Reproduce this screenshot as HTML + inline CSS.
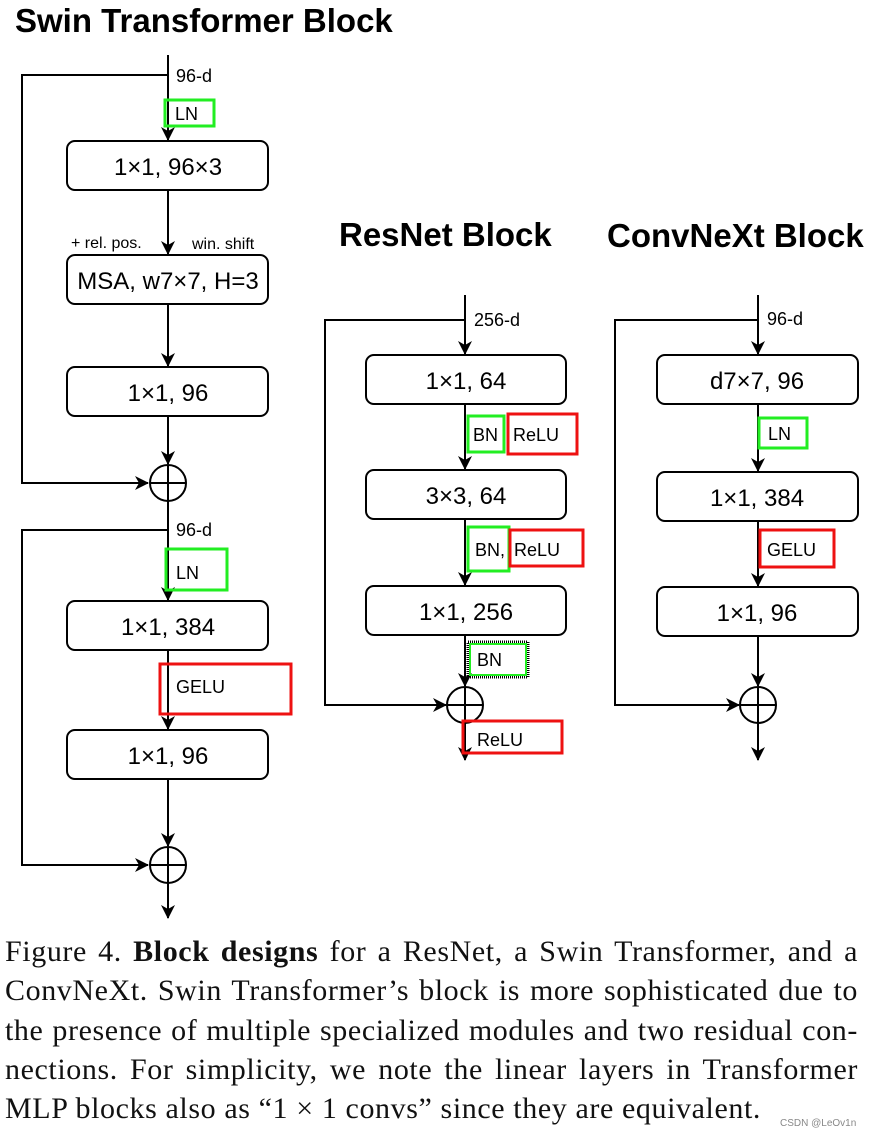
<!DOCTYPE html><html><head><style>
body{margin:0;background:#fff;width:878px;height:1135px;overflow:hidden;position:relative}
svg{position:absolute;left:0;top:0}
.cap{position:absolute;left:5px;top:932px;width:853px;font-family:"Liberation Serif",serif;font-size:30px;letter-spacing:0.6px;line-height:39.3px;text-align:justify;color:#111}
.cap div{text-align-last:justify;white-space:nowrap}
</style></head><body>
<svg width="878" height="1135" font-family="Liberation Sans, sans-serif">
<defs><marker id="a" markerWidth="14" markerHeight="14" refX="13" refY="7" orient="auto" markerUnits="userSpaceOnUse"><path d="M0,0 L14,7 L0,14 L4,7z" fill="#000"/></marker></defs>
<g font-weight="bold" font-size="33" fill="#000">
<text x="15" y="32">Swin Transformer Block</text>
<text x="339" y="246">ResNet Block</text>
<text x="607" y="247">ConvNeXt Block</text></g>
<g stroke="#000" stroke-width="2" fill="none">
<line x1="168" y1="55" x2="168" y2="140" marker-end="url(#a)"/>
<polyline points="168,75 22,75 22,483 148,483" marker-end="url(#a)"/>
<line x1="168" y1="190" x2="168" y2="254" marker-end="url(#a)"/>
<line x1="168" y1="304" x2="168" y2="366" marker-end="url(#a)"/>
<line x1="168" y1="416" x2="168" y2="464" marker-end="url(#a)"/>
<line x1="168" y1="501" x2="168" y2="600" marker-end="url(#a)"/>
<polyline points="168,530 22,530 22,865 148,865" marker-end="url(#a)"/>
<line x1="168" y1="650" x2="168" y2="729" marker-end="url(#a)"/>
<line x1="168" y1="779" x2="168" y2="846" marker-end="url(#a)"/>
<line x1="168" y1="883" x2="168" y2="918" marker-end="url(#a)"/>
<circle cx="168" cy="483" r="18"/><line x1="150" y1="483" x2="186" y2="483"/><line x1="168" y1="465" x2="168" y2="501"/>
<circle cx="168" cy="865" r="18"/><line x1="150" y1="865" x2="186" y2="865"/><line x1="168" y1="847" x2="168" y2="883"/>
<rect x="67" y="141" width="201" height="49" rx="8"/>
<rect x="67" y="255" width="201" height="49" rx="8"/>
<rect x="67" y="367" width="201" height="49" rx="8"/>
<rect x="67" y="601" width="201" height="49" rx="8"/>
<rect x="67" y="730" width="201" height="49" rx="8"/>
<line x1="465" y1="295" x2="465" y2="354" marker-end="url(#a)"/>
<polyline points="465,320 325,320 325,705 446,705" marker-end="url(#a)"/>
<line x1="465" y1="404" x2="465" y2="469" marker-end="url(#a)"/>
<line x1="465" y1="519" x2="465" y2="585" marker-end="url(#a)"/>
<line x1="465" y1="635" x2="465" y2="686" marker-end="url(#a)"/>
<line x1="465" y1="723" x2="465" y2="760" marker-end="url(#a)"/>
<circle cx="465" cy="705" r="18"/><line x1="447" y1="705" x2="483" y2="705"/><line x1="465" y1="687" x2="465" y2="723"/>
<rect x="366" y="355" width="200" height="49" rx="8"/>
<rect x="366" y="470" width="200" height="49" rx="8"/>
<rect x="366" y="586" width="200" height="49" rx="8"/>
<line x1="758" y1="295" x2="758" y2="354" marker-end="url(#a)"/>
<polyline points="758,320 615,320 615,705 739,705" marker-end="url(#a)"/>
<line x1="758" y1="404" x2="758" y2="471" marker-end="url(#a)"/>
<line x1="758" y1="521" x2="758" y2="586" marker-end="url(#a)"/>
<line x1="758" y1="636" x2="758" y2="686" marker-end="url(#a)"/>
<line x1="758" y1="723" x2="758" y2="760" marker-end="url(#a)"/>
<circle cx="758" cy="705" r="18"/><line x1="740" y1="705" x2="776" y2="705"/><line x1="758" y1="687" x2="758" y2="723"/>
<rect x="657" y="355" width="201" height="49" rx="8"/>
<rect x="657" y="472" width="201" height="49" rx="8"/>
<rect x="657" y="587" width="201" height="49" rx="8"/>
</g>
<g fill="none" stroke-width="3">
<rect x="165" y="100" width="49" height="26" stroke="#2e2"/>
<rect x="166" y="549" width="61" height="41" stroke="#2e2"/>
<rect x="160" y="664" width="131" height="50" stroke="#e11"/>
<rect x="468" y="416" width="36" height="36" stroke="#2e2"/>
<rect x="508" y="414" width="69" height="40" stroke="#e11"/>
<rect x="468" y="527" width="41" height="44" stroke="#2e2"/>
<rect x="510" y="530" width="73" height="36" stroke="#e11"/>
<rect x="468" y="642" width="60" height="35" stroke="#000" stroke-dasharray="1 1"/>
<rect x="470" y="644" width="56" height="31" stroke="#2e2" stroke-width="2"/>
<rect x="463" y="721" width="99" height="32" stroke="#e11"/>
<rect x="759" y="418" width="48" height="30" stroke="#2e2"/>
<rect x="760" y="530" width="74" height="37" stroke="#e11"/>
</g>
<g font-size="24" text-anchor="middle" fill="#000">
<text x="168" y="175">1×1, 96×3</text>
<text x="168" y="289">MSA, w7×7, H=3</text>
<text x="168" y="401">1×1, 96</text>
<text x="168" y="635">1×1, 384</text>
<text x="168" y="764">1×1, 96</text>
<text x="466" y="389">1×1, 64</text>
<text x="466" y="504">3×3, 64</text>
<text x="466" y="620">1×1, 256</text>
<text x="757" y="389">d7×7, 96</text>
<text x="757" y="506">1×1, 384</text>
<text x="757" y="621">1×1, 96</text>
</g>
<g font-size="18" fill="#000">
<text x="176" y="82">96-d</text><text x="175" y="120">LN</text>
<text x="71" y="248" font-size="16">+ rel. pos.</text><text x="192" y="249" font-size="16">win. shift</text>
<text x="176" y="536">96-d</text><text x="176" y="579">LN</text>
<text x="176" y="693">GELU</text>
<text x="474" y="326">256-d</text>
<text x="473" y="441">BN</text><text x="513" y="441">ReLU</text>
<text x="475" y="556">BN,</text><text x="514" y="556">ReLU</text>
<text x="477" y="666">BN</text>
<text x="477" y="746">ReLU</text>
<text x="767" y="325">96-d</text>
<text x="768" y="440">LN</text>
<text x="767" y="556">GELU</text>
<text x="780" y="1126" font-size="10" fill="#888">CSDN @LeOv1n</text>
</g>
</svg>
<div class="cap">
<div>Figure 4. <b>Block designs</b> for a ResNet, a Swin Transformer, and a</div>
<div>ConvNeXt. Swin Transformer’s block is more sophisticated due to</div>
<div>the presence of multiple specialized modules and two residual con-</div>
<div>nections. For simplicity, we note the linear layers in Transformer</div>
<div style="text-align-last:left">MLP blocks also as “1 × 1 convs” since they are equivalent.</div>
</div>
</body></html>
